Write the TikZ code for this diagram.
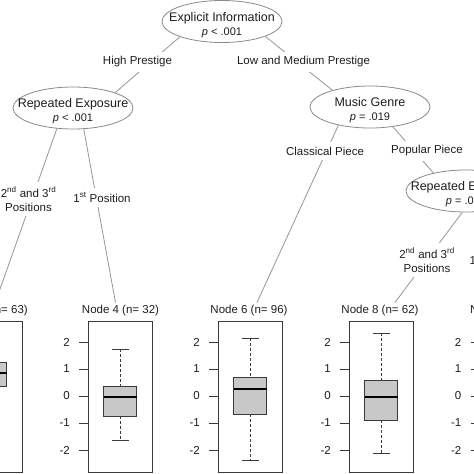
\documentclass[tikz,border=0pt]{standalone}
\usepackage{fontspec}
\setmainfont{Liberation Sans}
\usetikzlibrary{shapes.geometric}
\definecolor{edgegray}{HTML}{959595}
\definecolor{ellgray}{HTML}{8A8A8A}
\definecolor{framec}{HTML}{3A3A3A}
\definecolor{boxfill}{HTML}{C8C8C8}
\definecolor{textc}{HTML}{1E1E1E}
\newcommand{\drawpanel}[6]{%
  \draw[frame] ({#1-32},321) rectangle ({#1+32},472.5);
  \foreach \v in {-2,...,2} {
    \draw[frame] ({#1-41},{396-27*\v}) -- ({#1-32},{396-27*\v});
    \node[ticklab] at ({#1-50},{396-27*\v}) {\v};
  }
  \draw[whisk] (#1,{396-27*(#6)}) -- (#1,{396-27*(#5)});
  \draw[whisk] (#1,{396-27*(#3)}) -- (#1,{396-27*(#2)});
  \draw[frame] ({#1-8.5},{396-27*(#6)}) -- ({#1+8.5},{396-27*(#6)});
  \draw[frame] ({#1-8.5},{396-27*(#2)}) -- ({#1+8.5},{396-27*(#2)});
  \draw[bxs] ({#1-16.5},{396-27*(#5)}) rectangle ({#1+16.5},{396-27*(#3)});
  \draw[medline] ({#1-16.5},{396-27*(#4)}) -- ({#1+16.5},{396-27*(#4)});
}
\begin{document}
\begin{tikzpicture}[x=1pt,y=-1pt,
  ell/.style={ellipse, draw=ellgray, line width=0.8pt, fill=white,
    minimum width=120pt, minimum height=42pt, inner sep=0pt},
  etext/.style={align=center, text=textc, inner sep=0pt,
    font=\fontsize{12.5}{14}\selectfont},
  edge/.style={draw=edgegray, line width=0.8pt},
  elab/.style={fill=white, text=textc, align=center, inner xsep=1pt,
    inner ysep=5pt, font=\fontsize{11.5}{14}\selectfont},
  plab/.style={text=textc, inner sep=3pt, font=\fontsize{11.5}{14}\selectfont},
  ticklab/.style={anchor=east, text=textc, inner sep=0pt,
    font=\fontsize{11.5}{14}\selectfont},
  frame/.style={draw=framec, line width=0.8pt},
  whisk/.style={draw=framec, line width=0.8pt, dash pattern=on 3pt off 2pt},
  bxs/.style={draw=framec, fill=boxfill, line width=0.8pt},
  medline/.style={draw=black, line width=1.8pt}
]
\useasboundingbox (0,0) rectangle (474,474);
\clip (0,0) rectangle (474,474);

% inner nodes
\node[ell] (root) at (222,21.5) {};
\node[etext] at (222,25) {Explicit Information\\{\fontsize{11}{14}\selectfont\textit{p} < .001}};
\node[ell] (re1) at (73,108) {};
\node[etext] at (73,111) {Repeated Exposure\\{\fontsize{11}{14}\selectfont\textit{p} < .001}};
\node[ell] (mg) at (370,107) {};
\node[etext] at (370,110) {Music Genre\\{\fontsize{11}{14}\selectfont\textit{p} = .019}};
\node[ell] (re2) at (466,191) {};
\node[etext] at (466,194) {Repeated Exposure\\{\fontsize{11}{14}\selectfont\textit{p} = .024}};

% terminal panel labels
\node[plab, anchor=east] (n3lab) at (31,311) {Node 3 (n= 63)};
\node[plab] (n4lab) at (120.5,311) {Node 4 (n= 32)};
\node[plab] (n6lab) at (249,311) {Node 6 (n= 96)};
\node[plab] (n8lab) at (380,311) {Node 8 (n= 62)};
\node[plab, anchor=west] (n9lab) at (467,311) {Node 9 (n= 47)};

% edges
\draw[edge] (root.200) -- (re1.20);
\draw[edge] (root.341) -- (mg.156);
\draw[edge] (re1.232) -- ([xshift=6pt]n3lab.north);
\draw[edge] (re1.297) -- ([xshift=-5pt]n4lab.north);
\draw[edge] (mg.210) -- ([xshift=8pt]n6lab.north);
\draw[edge] (mg.319) -- (re2.151);
\draw[edge] (re2.260) -- ([xshift=15pt]n8lab.north);
\draw[edge] (re2.300) -- ([xshift=-8pt]n9lab.north);

% edge labels
\node[elab] (l1) at (137.5,62) {High Prestige};
\node[elab] (l2) at (303.5,62) {Low and Medium Prestige};
\node[elab] (l3) at (28.5,199) {2\textsuperscript{nd} and 3\textsuperscript{rd}\\Positions};
\node[elab] (l4) at (102,197.5) {1\textsuperscript{st} Position};
\node[elab] (l5) at (325,151) {Classical Piece};
\node[elab] (l6) at (427,151) {Popular Piece};
\node[elab] (l7) at (427,260) {2\textsuperscript{nd} and 3\textsuperscript{rd}\\Positions};
\node[elab, anchor=west] (l8) at (468.5,260) {1\textsuperscript{st} Position};

% box plots
\drawpanel{-10}{-1.6}{0.37}{0.85}{1.26}{2.3}
\drawpanel{120}{-1.63}{-0.74}{-0.05}{0.37}{1.74}
\drawpanel{250}{-2.37}{-0.67}{0.26}{0.70}{2.15}
\drawpanel{381}{-2.11}{-0.89}{-0.04}{0.59}{2.33}
\drawpanel{511.5}{-1.8}{-0.5}{0.1}{0.6}{1.9}
\end{tikzpicture}
\end{document}
